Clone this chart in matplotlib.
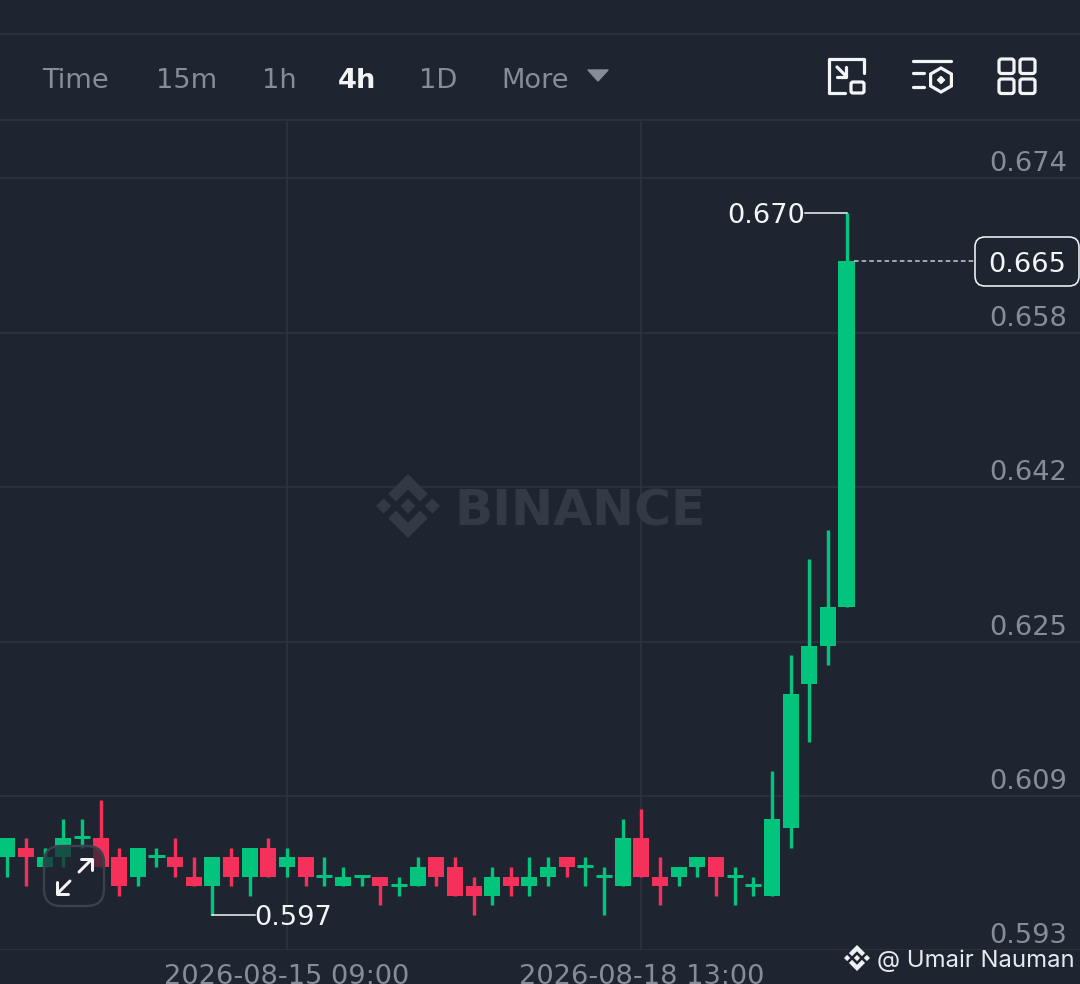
import matplotlib
matplotlib.use("Agg")
import matplotlib.pyplot as plt
from matplotlib.patches import FancyBboxPatch, Polygon, RegularPolygon
from matplotlib.transforms import ScaledTranslation

plt.rcParams["font.family"] = ["DejaVu Sans"]

# 4h candles
opens = [.603, .604, .602, .603, .605, .605, .603, .601, .603, .603, .601, .600, .603, .601, .604, .602,
         .603, .601, .600, .601, .601, .600, .600, .603, .602, .600, .599, .601, .600, .601, .603, .602,
         .601, .600, .605, .601, .601, .602, .603, .601, .600, .599, .606, .621, .625, .629]
closes = [.605, .603, .603, .605, .605, .602, .600, .604, .603, .602, .600, .603, .601, .604, .601, .603,
          .601, .601, .601, .601, .600, .600, .602, .601, .599, .599, .601, .600, .601, .602, .602, .602,
          .601, .605, .601, .600, .602, .603, .601, .601, .600, .607, .620, .625, .629, .665]
highs = [.605, .605, .604, .607, .607, .609, .604, .604, .604, .605, .603, .603, .604, .604, .605, .604,
         .603, .603, .602, .601, .601, .601, .603, .603, .603, .601, .602, .602, .603, .603, .603, .603,
         .602, .607, .608, .603, .602, .603, .603, .602, .601, .612, .624, .634, .637, .670]
lows = [.601, .600, .602, .602, .604, .602, .599, .600, .602, .601, .600, .597, .600, .599, .601, .601,
        .600, .600, .600, .600, .598, .599, .600, .600, .599, .597, .598, .599, .599, .600, .601, .600,
        .597, .600, .601, .598, .600, .601, .599, .598, .599, .599, .604, .615, .623, .629]

y_ticks = [.59336, .60938, .62539, .64151, .65752, .67364]
y_labels = ["0.593", "0.609", "0.625", "0.642", "0.658", "0.674"]
x_ticks = [15, 34]
x_labels = ["2026-08-15 09:00", "2026-08-18 13:00"]
tabs = ["Time", "15m", "1h", "4h", "1D", "More"]
tab_x = [42, 156, 262, 338, 419, 501]
last_price = .665

BG = "#1e2530"
GRID = "#2e3540"
GREY = "#858d99"
GREEN = "#03c47c"
RED = "#f5305a"
WHITE = "#f2f4f6"
FS = 19.6

fig = plt.figure(figsize=(10.8, 9.84), dpi=100, facecolor=BG)


def pt(px):
    return px * 0.72


# main price axes, y 120..950 in pixels
ax = fig.add_axes([0, 34 / 984, 1, 830 / 984], facecolor=BG)
ax.set_xlim(-0.391, 57.52)
ax.set_ylim(0.59336, 0.67967)
for s in ax.spines.values():
    s.set_visible(False)
ax.set_yticks(y_ticks, y_labels)
ax.set_xticks(x_ticks, x_labels)
ax.grid(True, color=GRID, lw=1.1)
ax.set_axisbelow(True)
ax.tick_params(axis="y", length=0, labelleft=False, labelright=True, pad=-9.5, labelsize=FS, labelcolor=GREY)
ax.tick_params(axis="x", length=0, pad=10, labelsize=FS, labelcolor=GREY)
for lab in ax.get_yticklabels():
    lab.set_ha("right")
    lab.set_va("bottom")
    lab.set_transform(lab.get_transform() + ScaledTranslation(0, 0.5 / 72, fig.dpi_scale_trans))

for i in range(len(opens)):
    col = GREEN if closes[i] >= opens[i] else RED
    ax.vlines(i, lows[i], highs[i], color=col, lw=pt(3.4), zorder=3)
    if opens[i] == closes[i]:
        ax.hlines(opens[i] + .0001, i - .43, i + .43, color=col, lw=pt(3), zorder=3)
    else:
        ax.bar(i, abs(closes[i] - opens[i]), bottom=min(opens[i], closes[i]), width=.86, color=col, zorder=3)

# high / low / last price callouts
i_high = highs.index(max(highs))
i_low = lows.index(min(lows))
ax.plot([i_high, i_high - 2.2], [max(highs)] * 2, color=WHITE, lw=1.1, zorder=4)
ax.text(i_high - 2.2, max(highs), "0.670", color=WHITE, fontsize=FS, ha="right", va="center_baseline")
ax.plot([i_low, i_low + 2.3], [min(lows)] * 2, color=WHITE, lw=1.1, zorder=4)
ax.text(i_low + 2.22, min(lows), "0.597", color=WHITE, fontsize=FS, ha="left", va="center_baseline")
ax.plot([45.4, 52], [last_price] * 2, color="#c8ccd2", lw=1.1, ls=(0, (3, 2)), zorder=4)

# overlay in pixel coordinates for the app chrome
ov = fig.add_axes([0, 0, 1, 1], facecolor="none")
ov.set_xlim(0, 1080)
ov.set_ylim(984, 0)
ov.axis("off")

ov.add_patch(plt.Rectangle((0, 0), 1080, 120, color=BG, zorder=0))
ov.plot([0, 1080], [34, 34], color=GRID, lw=1.1)
ov.plot([0, 1080], [120, 120], color=GRID, lw=1.1)

for name, x in zip(tabs, tab_x):
    on = name == "4h"
    ov.text(x, 78, name, color=WHITE if on else GREY, fontsize=FS, fontweight="bold" if on else "normal",
            ha="left", va="center_baseline")
ov.add_patch(Polygon([(588, 70), (608, 70), (598, 81)], color=GREY, joinstyle="round"))

box = dict(fill=False, ec=WHITE, lw=pt(3.2))
line = dict(color=WHITE, lw=pt(3.2), solid_capstyle="round", solid_joinstyle="round")
# layout icon
ov.plot([864, 864, 829, 829, 845], [73, 59, 59, 93, 93], **line)
ov.add_patch(FancyBboxPatch((851, 82), 13, 11, boxstyle="round,pad=0,rounding_size=2", **box))
ov.plot([837, 846], [67, 76], **line)
ov.plot([846, 846, 837], [67, 77, 77], **line)
# settings icon
ov.plot([913, 951], [61, 61], **line)
ov.plot([913, 924], [73, 73], **line)
ov.plot([913, 924], [87, 87], **line)
ov.add_patch(RegularPolygon((941, 80), 6, radius=12, **box))
ov.add_patch(RegularPolygon((941, 80), 4, radius=3.5, color=WHITE))
# grid icon
for gx in (999, 1020):
    for gy in (59, 79):
        ov.add_patch(FancyBboxPatch((gx, gy), 15, 14.5, boxstyle="round,pad=0,rounding_size=2.5", **box))


def logo(cx, cy, r, color):
    top = [(0, -1), (.62, -.38), (.38, -.14), (0, -.52), (-.38, -.14), (-.62, -.38)]
    shapes = [top, [(a, -b) for a, b in top]]
    for ox in (-.76, 0, .76):
        shapes.append([(ox, -.24), (ox + .24, 0), (ox, .24), (ox - .24, 0)])
    for shape in shapes:
        ov.add_patch(Polygon([(cx + a * r, cy + b * r) for a, b in shape], color=color, lw=0))


# watermark
logo(408, 506, 32, "#323a46")
ov.text(454, 507, "BINANCE", color="#323a46", fontsize=36.2, fontweight="bold", ha="left", va="center_baseline")

# expand button over the candles
ov.add_patch(FancyBboxPatch((44, 846), 60, 60, boxstyle="round,pad=0,rounding_size=17",
                            fc=BG, alpha=.72, ec="none", zorder=5))
ov.add_patch(FancyBboxPatch((44, 846), 60, 60, boxstyle="round,pad=0,rounding_size=17",
                            fill=False, ec="#3a414c", lw=pt(2.4), zorder=5))
arrow = dict(color=WHITE, lw=pt(3), solid_capstyle="round", solid_joinstyle="round", zorder=6)
ov.plot([79, 91], [872, 860], **arrow)
ov.plot([81, 92, 92], [859, 859, 870], **arrow)
ov.plot([58, 70], [893, 881], **arrow)
ov.plot([57, 57, 68], [882, 894, 894], **arrow)

# last price tag
ov.add_patch(FancyBboxPatch((975, 237), 104, 49, boxstyle="round,pad=0,rounding_size=10",
                            fc=BG, ec=WHITE, lw=pt(1.6), zorder=5))
ov.text(1027, 262, f"{last_price:.3f}", color=WHITE, fontsize=FS,
        ha="center", va="center_baseline", zorder=6)

# credit
logo(857, 958, 13, "#eef0f3")
ov.text(877, 958, "@ Umair Nauman", color="#e6e9ed", family="Inter", fontsize=17.2, fontweight="normal",
        ha="left", va="center_baseline")

fig.savefig("out.png", dpi=100, facecolor=BG)
